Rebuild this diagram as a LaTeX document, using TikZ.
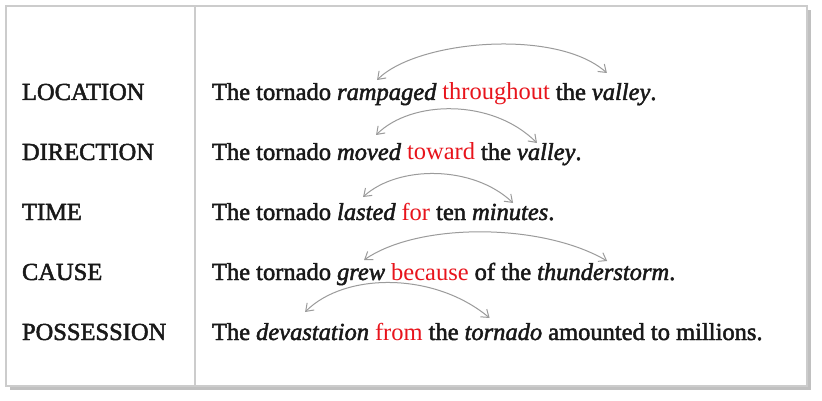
\documentclass[tikz,border=0pt]{standalone}
\usepackage{fontspec}
\setmainfont{Liberation Serif}[FakeBold=2]
\newfontfamily\relfont{Liberation Serif}
\usepackage{tikz}
\usetikzlibrary{arrows.meta}
\usetikzlibrary{positioning}
\usetikzlibrary{calc}
\usetikzlibrary{shadows}
\definecolor{framegray}{RGB}{204,204,204}
\definecolor{relred}{RGB}{232,20,28}
\definecolor{linkgray}{RGB}{155,155,155}
\tikzset{
  plain/.style={inner sep=0pt, outer sep=0pt, text=black!90, font=\fontsize{24.5}{28}\selectfont},
  role/.style={plain, anchor=base west},
  focus/.style={plain, font=\fontsize{24.5}{28}\selectfont\itshape},
  rel/.style={plain, text=relred, font=\fontsize{24.5}{28}\selectfont\relfont},
  arc/.style={linkgray, line width=1pt, {Straight Barb[length=7pt,width=10pt]}-{Straight Barb[length=7pt,width=10pt]}},
}

\begin{document}
\begin{tikzpicture}[x=1pt, y=-1pt]
  \useasboundingbox (0,0) rectangle (822,401);
  % frame
  \draw[framegray, line width=2pt, fill=white, drop shadow={shadow xshift=4pt, shadow yshift=-4pt, opacity=.45, fill=black!55}] (6,6) rectangle (807,386);
  \draw[framegray, line width=1.5pt] (195,6) -- (195,386);

  % location
  \node[role] (loc) at (22,100) {LOCATION};
  \node[role] (loc-a) at (212,100) {The tornado};
  \node[focus, base right=6pt of loc-a] (loc-v) {rampaged};
  \node[rel, base right=6pt of loc-v] (loc-p) {throughout};
  \node[plain, base right=6pt of loc-p] (loc-b) {the};
  \node[focus, base right=6pt of loc-b] (loc-n) {valley};
  \node[plain, base right=0pt of loc-n] (loc-e) {.};
  \draw[arc] ($(loc-v.base west)+(40,-20)$) .. controls +(40,-40) and +(-50,-45) .. ($(loc-n.base west)+(15,-27)$);

  % direction
  \node[role] (dir) at (22,160) {DIRECTION};
  \node[role] (dir-a) at (212,160) {The tornado};
  \node[focus, base right=6pt of dir-a] (dir-v) {moved};
  \node[rel, base right=6pt of dir-v] (dir-p) {toward};
  \node[plain, base right=6pt of dir-p] (dir-b) {the};
  \node[focus, base right=6pt of dir-b] (dir-n) {valley};
  \node[plain, base right=0pt of dir-n] (dir-e) {.};
  \draw[arc] ($(dir-v.base west)+(39,-25)$) .. controls +(35,-35) and +(-45,-45) .. ($(dir-n.base west)+(20,-17)$);

  % time
  \node[role] (tim) at (22,220) {TIME};
  \node[role] (tim-a) at (212,220) {The tornado};
  \node[focus, base right=6pt of tim-a] (tim-v) {lasted};
  \node[rel, base right=6pt of tim-v] (tim-p) {for};
  \node[plain, base right=6pt of tim-p] (tim-b) {ten};
  \node[focus, base right=6pt of tim-b] (tim-n) {minutes};
  \node[plain, base right=0pt of tim-n] (tim-e) {.};
  \draw[arc] ($(tim-v.base west)+(26,-23)$) .. controls +(35,-32) and +(-40,-38) .. ($(tim-n.base west)+(41,-17)$);

  % cause
  \node[role] (cau) at (22,280) {CAUSE};
  \node[role] (cau-a) at (212,280) {The tornado};
  \node[focus, base right=6pt of cau-a] (cau-v) {grew};
  \node[rel, base right=6pt of cau-v] (cau-p) {because};
  \node[plain, base right=6pt of cau-p] (cau-b) {of the};
  \node[focus, base right=6pt of cau-b] (cau-n) {thunderstorm};
  \node[plain, base right=0pt of cau-n] (cau-e) {.};
  \draw[arc] ($(cau-v.base west)+(27,-20)$) .. controls +(55,-38) and +(-65,-38) .. ($(cau-n.base west)+(70,-19)$);

  % possession
  \node[role] (pos) at (22,340) {POSSESSION};
  \node[role] (pos-a) at (212,340) {The};
  \node[focus, base right=6pt of pos-a] (pos-v) {devastation};
  \node[rel, base right=6pt of pos-v] (pos-p) {from};
  \node[plain, base right=6pt of pos-p] (pos-b) {the};
  \node[focus, base right=6pt of pos-b] (pos-n) {tornado};
  \node[plain, base right=6pt of pos-n] (pos-e) {amounted to millions.};
  \draw[arc] ($(pos-v.base west)+(49,-28)$) .. controls +(40,-40) and +(-55,-46) .. ($(pos-n.base west)+(25,-22)$);
\end{tikzpicture}
\end{document}
